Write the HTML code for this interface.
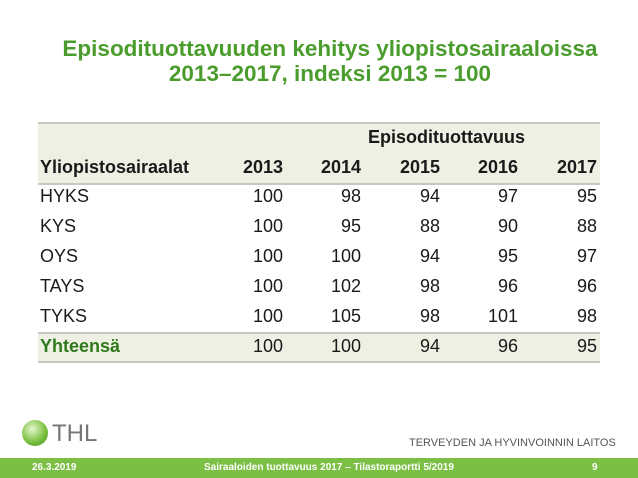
<!DOCTYPE html>
<html><head><meta charset="utf-8"><style>
body{margin:0;width:638px;height:478px;position:relative;background:#fff;overflow:hidden;font-family:"Liberation Sans",sans-serif}
.t{position:absolute;white-space:nowrap}
.title{left:0;width:660px;text-align:center;color:#4a9d2c;font-weight:bold;font-size:22.5px;line-height:25px}
.cell{position:absolute;font-size:18px;color:#1a1a1a;white-space:nowrap}
.hr{position:absolute;left:38px;width:562px;height:2px;background:#c8c8c0}
</style></head><body>
<div class="t title" style="top:36px">Episodituottavuuden kehitys yliopistosairaaloissa<br>2013–2017, indeksi 2013 = 100</div>
<div id="tbl"></div>
<div class="t" style="left:22px;top:420px;width:26px;height:26px;border-radius:50%;background:radial-gradient(circle at 40% 35%,#e8f7d0,#7cc243 55%,#3f8f22)"></div>
<div class="t" style="left:52px;top:420px;font-size:24px;color:#777">THL</div>
<div class="t" style="left:409px;top:437px;font-size:11px;color:#555">TERVEYDEN JA HYVINVOINNIN LAITOS</div>
<div class="t" style="left:0;top:458px;width:638px;height:20px;background:#7bbf45"></div>
<div class="t" style="left:32px;top:462px;font-size:10px;color:#fff;font-weight:bold">26.3.2019</div>
<div class="t" style="left:204px;top:462px;font-size:10px;color:#fff;font-weight:bold">Sairaaloiden tuottavuus 2017 – Tilastoraportti 5/2019</div>
<div class="t" style="left:592px;top:462px;font-size:10px;color:#fff;font-weight:bold">9</div>
<script>
const years=["2013","2014","2015","2016","2017"];
const hospitals=["HYKS","KYS","OYS","TAYS","TYKS","Yhteensä"];
const v2013=[100,100,100,100,100,100];
const v2014=[98,95,100,102,105,100];
const v2015=[94,88,94,98,98,94];
const v2016=[97,90,95,96,101,96];
const v2017=[95,88,97,96,98,95];
const series=[v2013,v2014,v2015,v2016,v2017];
const tbl=document.getElementById('tbl');
function mk(cls,style,txt){const d=document.createElement('div');d.className=cls;d.style.cssText=style;if(txt!==undefined)d.textContent=txt;tbl.appendChild(d);return d;}
const colRight=[283,361,440,518,597];
const rowY=i=>186+i*30;
let b=mk('t','left:38px;top:124px;width:562px;height:59px;background:#eef0e4');


b=mk('t','left:38px;top:333px;width:562px;height:28px;background:#eef0e4');


[122,183,332,361].forEach(y=>{const l=mk('hr','top:'+y+'px');

});
let h=mk('cell','left:368px;top:127px;font-weight:bold','Episodituottavuus');


h=mk('cell','left:40px;top:157px;font-weight:bold','Yliopistosairaalat');


years.forEach((y,j)=>{const c=mk('cell','right:'+(638-colRight[j])+'px;top:157px;font-weight:bold',y);

});
hospitals.forEach((n,i)=>{const last=i===hospitals.length-1;
const c=mk('cell','left:40px;top:'+rowY(i)+'px;'+(last?'font-weight:bold;color:#2f7a1c':''),n);


series.forEach((s,j)=>{const d=mk('cell','right:'+(638-colRight[j])+'px;top:'+rowY(i)+'px',String(s[i]));

});});
</script>
</body></html>
